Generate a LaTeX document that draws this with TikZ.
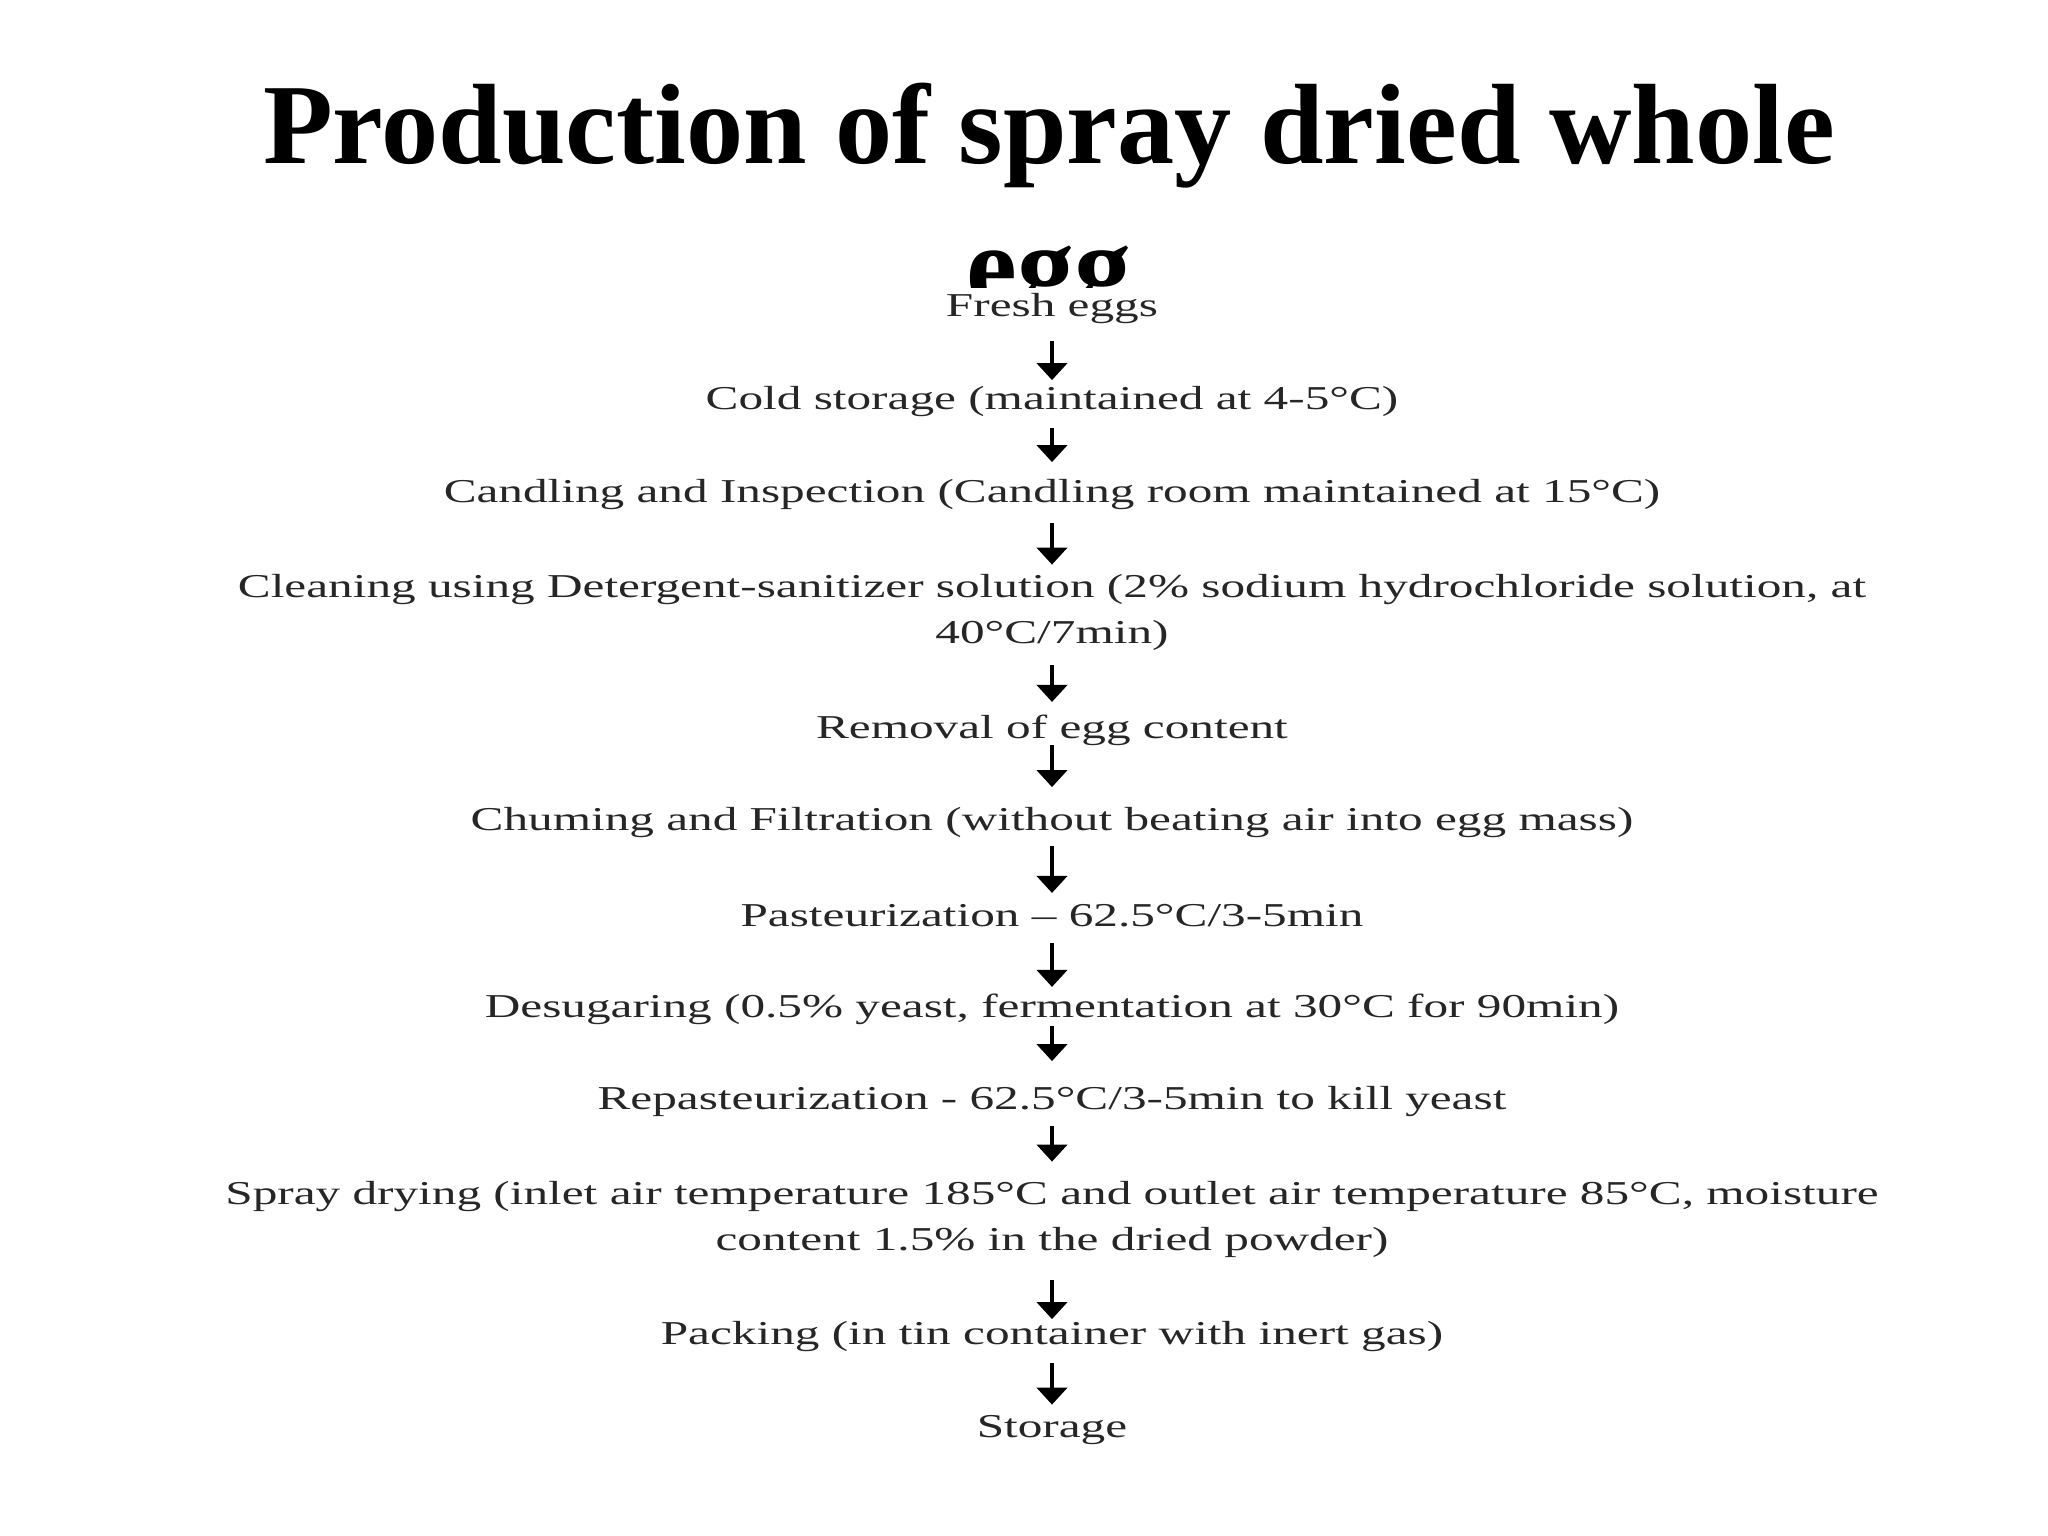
\documentclass[tikz,border=0pt]{standalone}
\usepackage{fontspec}
\setmainfont{Liberation Serif}
\newfontfamily\stagefont[FakeStretch=1.475]{Liberation Serif}
\usetikzlibrary{arrows.meta,positioning}

\begin{document}
\begin{tikzpicture}[node distance=0.93cm,on grid,
    stage/.style={inner sep=0pt,align=center,text=black!85,
                  font=\stagefont\fontsize{9.5}{13.1}\selectfont},
    flow/.style={-{Triangle[width=3mm,length=1.7mm]},line width=1.2pt}]
\useasboundingbox (0,0) rectangle (20.48,-15.36);
% slide title, second line half hidden by the pasted chart
\node[font=\bfseries\fontsize{32.5}{40}\selectfont,align=center] (title) at (10.49,-2.065)
    {Production of spray dried whole\\egg};
\fill[white] (2.09,-2.88) rectangle (19.0,-15.36);
% process steps
\node[stage] (fresh) at (10.52,-3.09) {Fresh eggs};
\node[stage] (cold) [below=of fresh] {Cold storage (maintained at 4-5°C)};
\node[stage] (candling) [below=of cold] {Candling and Inspection (Candling room maintained at 15°C)};
\node[stage] (cleaning) [below=1.175cm of candling]
    {Cleaning using Detergent-sanitizer solution (2\% sodium hydrochloride solution, at\\40°C/7min)};
\node[stage] (removal) [below=1.175cm of cleaning] {Removal of egg content};
\node[stage] (churning) [below=of removal] {Chuming and Filtration (without beating air into egg mass)};
\node[stage] (pasteur) [below=of churning] {Pasteurization – 62.5°C/3-5min};
\node[stage] (desugar) [below=of pasteur] {Desugaring (0.5\% yeast, fermentation at 30°C for 90min)};
\node[stage] (repasteur) [below=of desugar] {Repasteurization - 62.5°C/3-5min to kill yeast};
\node[stage] (spray) [below=1.175cm of repasteur]
    {Spray drying (inlet air temperature 185°C and outlet air temperature 85°C, moisture\\content 1.5\% in the dried powder)};
\node[stage] (packing) [below=1.175cm of spray] {Packing (in tin container with inert gas)};
\node[stage] (storage) [below=of packing] {Storage};
\path[flow]
    (fresh) edge[shorten <=1.6mm,shorten >=0.6mm] (cold)
    (cold) edge[shorten <=1mm,shorten >=1.7mm] (candling)
    (candling) edge[shorten <=1.2mm,shorten >=0.9mm] (cleaning)
    (cleaning) edge[shorten <=1.4mm,shorten >=1.2mm] (removal)
    (removal) edge[shorten <=-0.1mm,shorten >=2mm] (churning)
    (churning) edge[shorten <=0.7mm,shorten >=1.1mm] (pasteur)
    (pasteur) edge[shorten <=1.5mm,shorten >=0.6mm] (desugar)
    (desugar) edge[shorten <=0.1mm,shorten >=2.5mm] (repasteur)
    (repasteur) edge[shorten <=0.8mm,shorten >=1.9mm] (spray)
    (spray) edge[shorten <=2.2mm,shorten >=0.2mm] (packing)
    (packing) edge[shorten <=1mm,shorten >=1mm] (storage);
\end{tikzpicture}
\end{document}
